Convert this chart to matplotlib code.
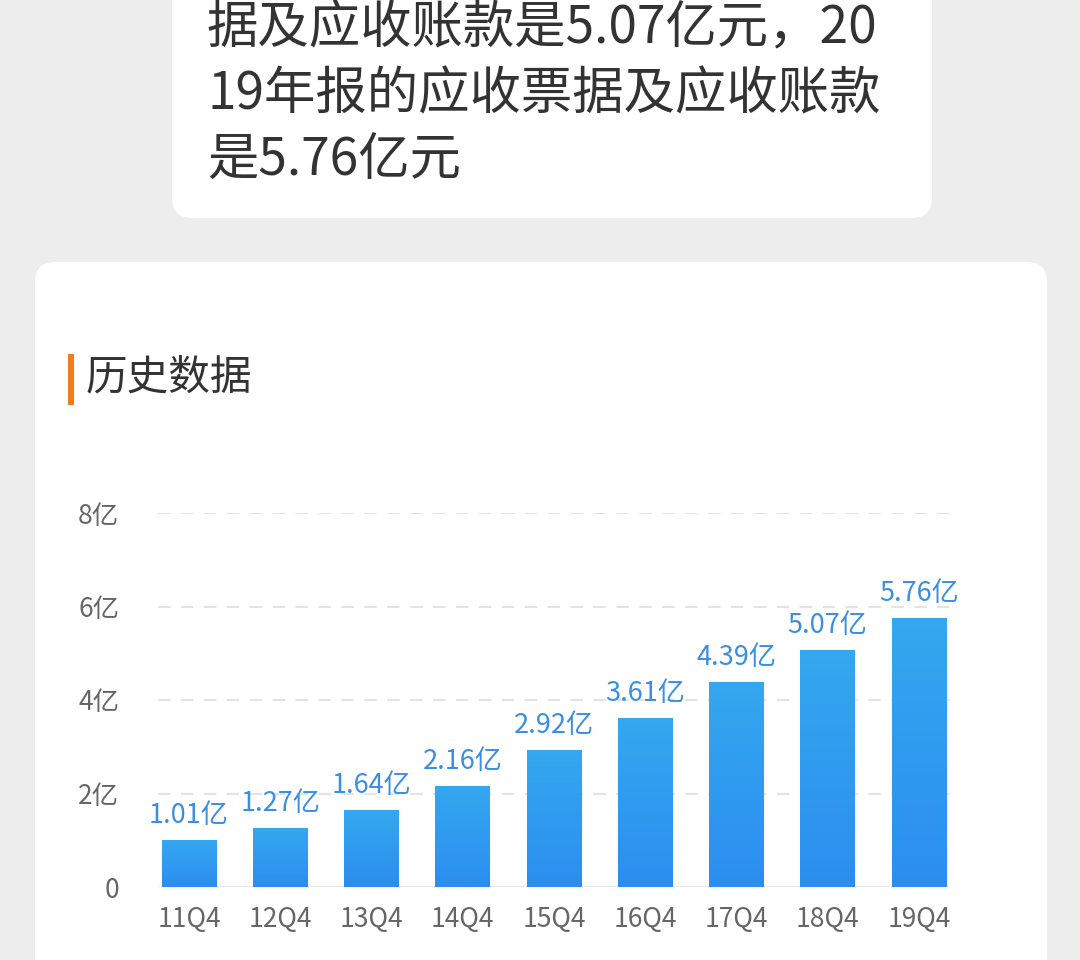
import numpy as np
import matplotlib
matplotlib.use("Agg")
import matplotlib.pyplot as plt
from matplotlib.patches import FancyBboxPatch, Rectangle
from matplotlib.colors import LinearSegmentedColormap

plt.rcParams['font.family'] = ['Noto Sans CJK SC', 'DejaVu Sans']

# data
quarters = ['11Q4', '12Q4', '13Q4', '14Q4', '15Q4', '16Q4', '17Q4', '18Q4', '19Q4']
values = [1.01, 1.27, 1.64, 2.16, 2.92, 3.61, 4.39, 5.07, 5.76]
yticks = [0, 2, 4, 6, 8]
ytick_labels = ['0', '2亿', '4亿', '6亿', '8亿']
text_lines = ['据及应收账款是5.07亿元，20', '19年报的应收票据及应收账款', '是5.76亿元']
panel_title = '历史数据'

W, H = 1080, 960
fig = plt.figure(figsize=(W / 100, H / 100), dpi=100)
fig.patch.set_facecolor('#ededed')

# background layer in pixel coords (y downwards)
bg = fig.add_axes([0, 0, 1, 1])
bg.set_xlim(0, W)
bg.set_ylim(H, 0)
bg.axis('off')
bg.set_zorder(0)

bg.add_patch(FancyBboxPatch((172, -40), 760, 258, boxstyle='round,pad=0,rounding_size=20',
                            fc='white', ec='none'))
bg.add_patch(FancyBboxPatch((35, 262), 1012, 760, boxstyle='round,pad=0,rounding_size=20',
                            fc='white', ec='none'))

for i, line in enumerate(text_lines):
    bg.text(207, 29 + i * 66, line, fontsize=37, color='#333333', va='center', ha='left')

bg.add_patch(Rectangle((68, 354), 6, 51, fc='#f07c1c', ec='none'))
bg.text(86, 378, panel_title, fontsize=30, color='#333333', va='center', ha='left')

# chart
ax = fig.add_axes([158 / W, (H - 887) / H, (950 - 158) / W, (887 - 513) / H])
ax.set_zorder(1)
ax.patch.set_alpha(0)
x = np.arange(len(quarters))
bars = ax.bar(x, values, width=0.6, color='#2f9bef', zorder=3)

# vertical gradient on each bar
grad = np.linspace(0, 1, 100).reshape(-1, 1)
cmap = LinearSegmentedColormap.from_list('bluegrad', ['#2b8ef0', '#34a8ef'])
for b in bars:
    bx, bw, bh = b.get_x(), b.get_width(), b.get_height()
    im = ax.imshow(grad, extent=[bx, bx + bw, 0, bh], origin='lower', cmap=cmap,
                   aspect='auto', zorder=4)
    im.set_clip_path(b)

for xi, v in zip(x, values):
    ax.annotate(f'{v:.2f}亿', (xi, v), xytext=(0, 8), textcoords='offset points',
                ha='center', va='bottom', fontsize=19.5, color='#3a8fe2')

ax.set_xlim(-0.34, 8.34)
ax.set_ylim(0, 8)
ax.set_yticks(yticks)
ax.set_yticklabels(ytick_labels)
ax.set_xticks(x)
ax.set_xticklabels(quarters)
ax.tick_params(axis='both', length=0, labelsize=19, colors='#666666')
ax.tick_params(axis='y', pad=28)
ax.tick_params(axis='x', pad=14)
for s in ax.spines.values():
    s.set_visible(False)
for t in yticks[1:]:
    ax.axhline(t, color='#e3e3e3', lw=1.5, ls=(0, (6, 5)), zorder=1)
ax.axhline(0, color='#e6e6e6', lw=2, zorder=2)

fig.savefig('out.png', dpi=100, facecolor=fig.get_facecolor())
